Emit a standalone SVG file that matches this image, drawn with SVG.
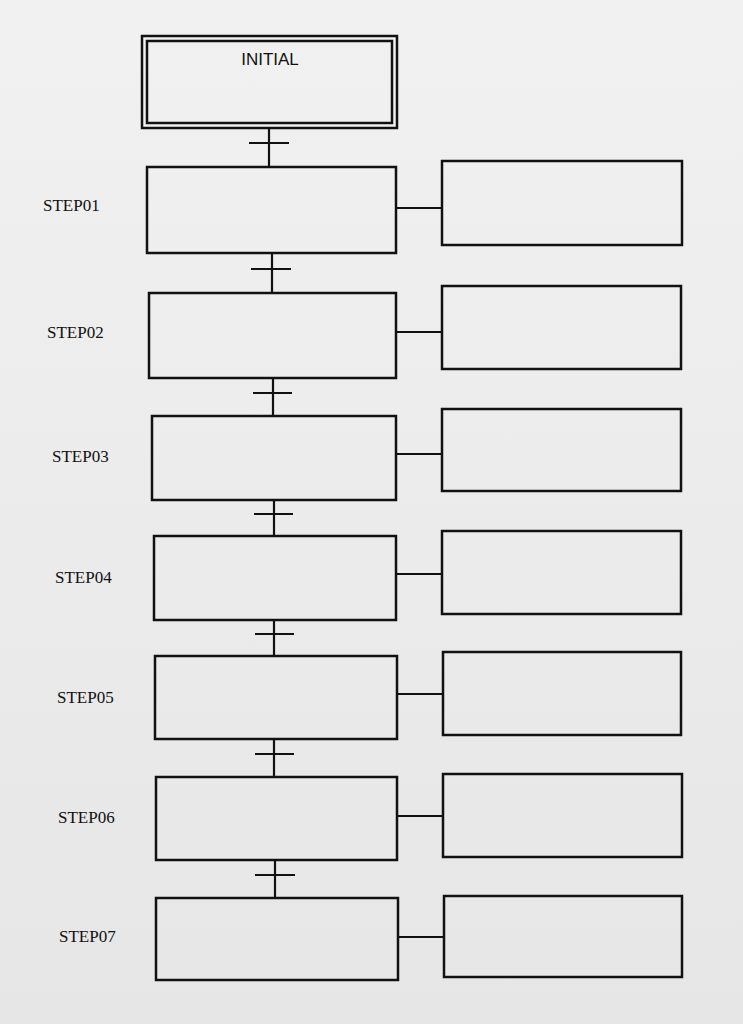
<svg xmlns="http://www.w3.org/2000/svg" width="743" height="1024" viewBox="0 0 743 1024">
<defs>
<linearGradient id="paper" x1="0" y1="0" x2="0" y2="1">
<stop offset="0" stop-color="#f1f1f1"/>
<stop offset="1" stop-color="#e6e6e6"/>
</linearGradient>
</defs>
<style>
.box{fill:none;stroke:#111111;stroke-width:2.5}
.ln{fill:none;stroke:#111111;stroke-width:2.2}
.lbl{font-family:"Liberation Serif","Times New Roman",serif;font-size:17px;fill:#111111}
.ttl{font-family:"Liberation Sans",Arial,sans-serif;font-size:17px;fill:#111111}
</style>
<rect x="0" y="0" width="743" height="1024" fill="url(#paper)"/>
<g id="connectors">
<line class="ln" x1="269" y1="128" x2="269" y2="167"/>
<line class="ln" x1="249" y1="143" x2="289" y2="143"/>
<line class="ln" x1="272" y1="253" x2="272" y2="293"/>
<line class="ln" x1="251" y1="269" x2="291" y2="269"/>
<line class="ln" x1="273" y1="378" x2="273" y2="416"/>
<line class="ln" x1="253" y1="393" x2="292" y2="393"/>
<line class="ln" x1="274" y1="500" x2="274" y2="536"/>
<line class="ln" x1="254" y1="514" x2="293" y2="514"/>
<line class="ln" x1="274" y1="620" x2="274" y2="656"/>
<line class="ln" x1="255" y1="634" x2="294" y2="634"/>
<line class="ln" x1="274" y1="739" x2="274" y2="777"/>
<line class="ln" x1="255" y1="754" x2="294" y2="754"/>
<line class="ln" x1="275" y1="860" x2="275" y2="898"/>
<line class="ln" x1="255" y1="875" x2="295" y2="875"/>
<line class="ln" x1="396" y1="208" x2="442" y2="208"/>
<line class="ln" x1="396" y1="332" x2="442" y2="332"/>
<line class="ln" x1="396" y1="454" x2="442" y2="454"/>
<line class="ln" x1="396" y1="574" x2="442" y2="574"/>
<line class="ln" x1="397" y1="694" x2="443" y2="694"/>
<line class="ln" x1="397" y1="816" x2="443" y2="816"/>
<line class="ln" x1="398" y1="937" x2="444" y2="937"/>
</g>
<g id="initial">
<rect class="box" x="142" y="36" width="255" height="92"/>
<rect class="box" x="147" y="41" width="245" height="82" stroke-width="1.8"/>
<text class="ttl" x="270" y="65" text-anchor="middle">INITIAL</text>
</g>
<g id="step01">
<rect class="box" x="147" y="167" width="249" height="86"/>
<text class="lbl" x="43" y="211">STEP01</text>
</g>
<g id="action01"><rect class="box" x="442" y="161" width="240" height="84"/></g>
<g id="step02">
<rect class="box" x="149" y="293" width="247" height="85"/>
<text class="lbl" x="47" y="338">STEP02</text>
</g>
<g id="action02"><rect class="box" x="442" y="286" width="239" height="83"/></g>
<g id="step03">
<rect class="box" x="152" y="416" width="244" height="84"/>
<text class="lbl" x="52" y="462">STEP03</text>
</g>
<g id="action03"><rect class="box" x="442" y="409" width="239" height="82"/></g>
<g id="step04">
<rect class="box" x="154" y="536" width="242" height="84"/>
<text class="lbl" x="55" y="583">STEP04</text>
</g>
<g id="action04"><rect class="box" x="442" y="531" width="239" height="83"/></g>
<g id="step05">
<rect class="box" x="155" y="656" width="242" height="83"/>
<text class="lbl" x="57" y="703">STEP05</text>
</g>
<g id="action05"><rect class="box" x="443" y="652" width="238" height="83"/></g>
<g id="step06">
<rect class="box" x="156" y="777" width="241" height="83"/>
<text class="lbl" x="58" y="823">STEP06</text>
</g>
<g id="action06"><rect class="box" x="443" y="774" width="239" height="83"/></g>
<g id="step07">
<rect class="box" x="156" y="898" width="242" height="82"/>
<text class="lbl" x="59" y="942">STEP07</text>
</g>
<g id="action07"><rect class="box" x="444" y="896" width="238" height="81"/></g>
</svg>
